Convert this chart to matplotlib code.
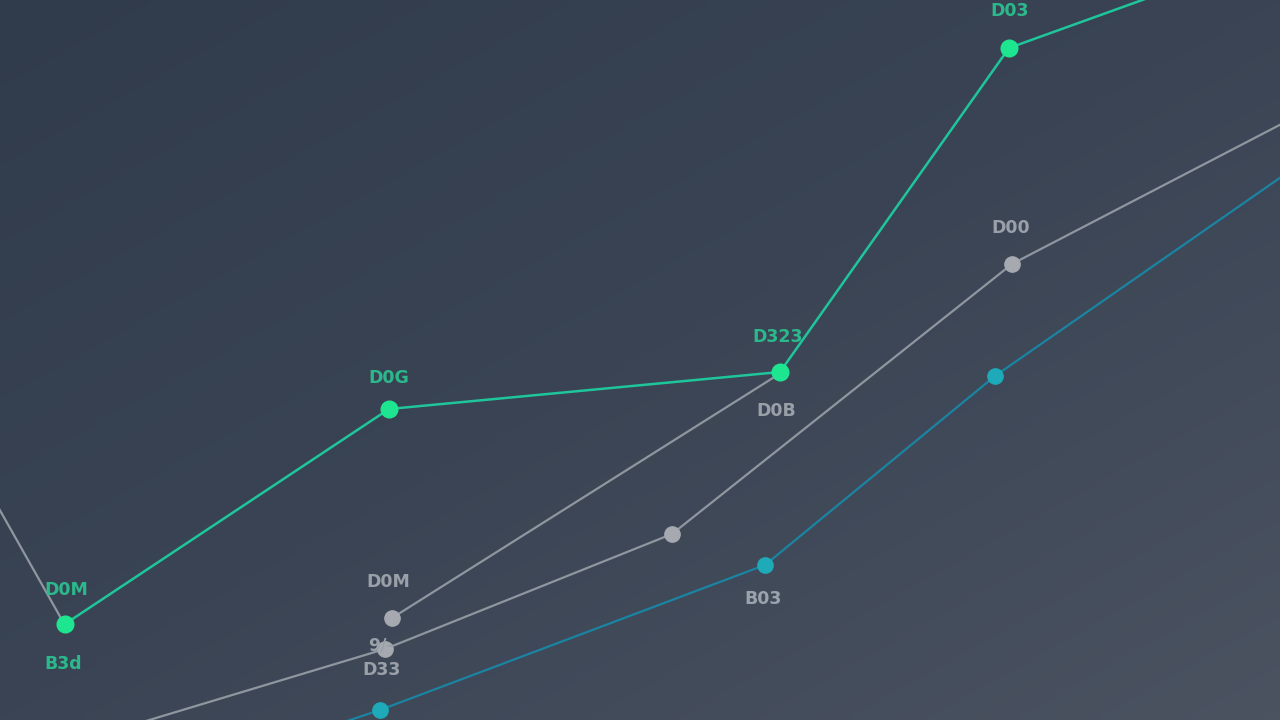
import numpy as np
import matplotlib.pyplot as plt
from matplotlib.colors import LinearSegmentedColormap

# series values (x position, value); points outside the view keep the lines running off the edges
green_x = [0.65, 3.89, 7.80, 10.09, 12.95]
green_y = [0.96, 3.11, 3.48, 6.72, 7.75]

gray_up_x = [-0.2, 0.62, np.nan, 3.92, 7.76]
gray_up_y = [2.45, 1.00, np.nan, 1.02, 3.44]

gray_x = [0.0, 3.85, 6.72, 10.12, 13.2]
gray_y = [-0.45, 0.71, 1.86, 4.56, 6.16]

teal_x = [0.0, 3.80, 7.65, 9.95, 13.2]
teal_y = [-1.17, 0.10, 1.55, 3.44, 5.70]

# data labels: (x, y of the anchor point, text, offset in pixels)
green_labels = [(0, 'D0M', (1, 34)), (0, 'B3d', (-2, -40)), (1, 'D0G', (0, 31)),
                (2, 'D323', (-2, 35)), (3, 'D03', (1, 37))]
gray_labels = [(gray_up_x[3], gray_up_y[3], 'D0M', (-4, 36)),
               (gray_x[1], gray_y[1], '9/-', (-4, 4)),
               (gray_x[1], gray_y[1], 'D33', (-3, -21)),
               (green_x[2], green_y[2], 'D0B', (-4, -39)),
               (gray_x[3], gray_y[3], 'D00', (-1, 36))]
teal_labels = [(2, 'B03', (-2, -34))]

fig = plt.figure(figsize=(12.8, 7.2), dpi=100)
ax = fig.add_axes([0, 0, 1, 1])

# diagonal background gradient, dark top-left to lighter bottom-right
gx, gy = np.meshgrid(np.linspace(0, 1, 256), np.linspace(0, 1, 144))
grad = 0.5 * gx + 0.5 * gy
cmap = LinearSegmentedColormap.from_list('bg', ['#303b4b', '#3a4454', '#4b5361'])
ax.imshow(grad, extent=[0, 12.8, 0, 7.2], origin='upper', cmap=cmap, aspect='auto',
          zorder=0, interpolation='bicubic')
ax.set_xlim(0, 12.8)
ax.set_ylim(0, 7.2)
ax.axis('off')

ax.plot(gray_up_x, gray_up_y, color='#8f969f', lw=1.6, zorder=2)
ax.plot(gray_up_x[3:4], gray_up_y[3:4], 'o', color='#a6aab0', ms=11, zorder=3)
ax.plot(gray_x, gray_y, color='#8f969f', lw=1.6, marker='o', ms=11,
        mfc='#a6aab0', mec='#a6aab0', zorder=2)
ax.plot(teal_x, teal_y, color='#1a84a2', lw=1.6, marker='o', ms=11,
        mfc='#1eaab8', mec='#1eaab8', zorder=2)
ax.plot(green_x, green_y, color='#1fc69b', lw=1.8, marker='o', ms=12,
        mfc='#1ee690', mec='#1ee690', zorder=4)

lab = dict(textcoords='offset pixels', ha='center', va='center', fontsize=12.5,
           fontweight='bold')
for i, t, off in green_labels:
    ax.annotate(t, (green_x[i], green_y[i]), xytext=off, color='#2bb98c', **lab)

for px, py, t, off in gray_labels:
    ax.annotate(t, (px, py), xytext=off, color='#9aa0a8', **lab)

for i, t, off in teal_labels:
    ax.annotate(t, (teal_x[i], teal_y[i]), xytext=off, color='#9aa3ad', **lab)

fig.savefig('out.png', dpi=100)
